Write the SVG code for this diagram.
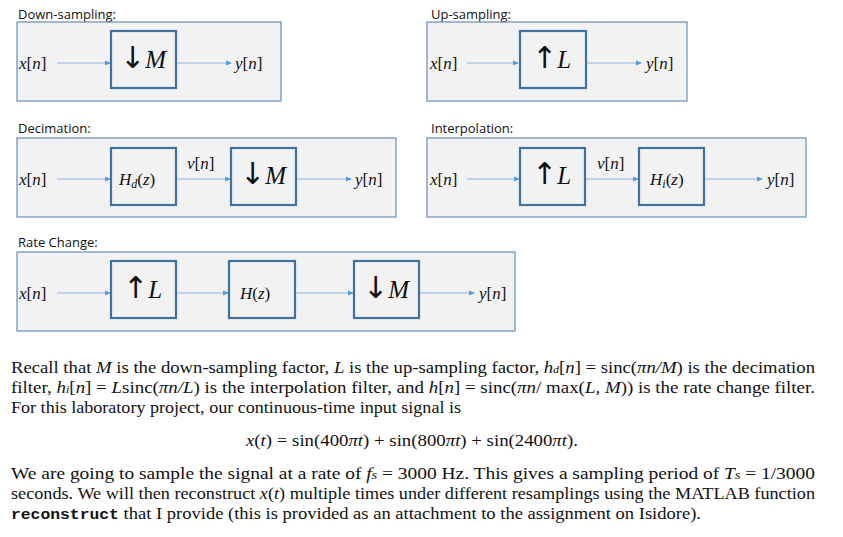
<svg xmlns="http://www.w3.org/2000/svg" width="843" height="537" viewBox="0 0 843 537">
<style>
.t{font-family:"Open Sans","Liberation Sans",sans-serif;font-size:13px;fill:#111}
.m{font-family:"Liberation Serif",serif;font-style:italic;font-size:17px;fill:#111}
.big{font-family:"Liberation Serif",serif;font-style:italic;font-size:25px;fill:#111}
.ar{font-family:"DejaVu Sans",sans-serif;font-style:normal;font-size:30px}
.outer{fill:#f2f2f2;stroke:#6a8db5;stroke-width:1.2}
.inner{fill:#f2f2f2;stroke:#41719c;stroke-width:2.2}
.c{stroke:#8db4e0;stroke-width:1;fill:none;marker-end:url(#a)}
.p{font-family:"Liberation Serif",serif;font-size:17px;fill:#111}
.mono{font-family:"Liberation Mono",monospace;font-weight:bold;font-size:15px}
</style>
<defs><marker id="a" markerWidth="6" markerHeight="6" refX="5" refY="3" orient="auto"><path d="M0,0.5 L6,3 L0,5.5z" fill="#5b9bd5"/></marker></defs>
<rect width="843" height="537" fill="#fff"/>
<g id="frames">
<text class="t" x="18" y="19">Down-sampling:</text>
<rect class="outer" x="17" y="22" width="264" height="79"/>
<text class="t" x="431" y="19">Up-sampling:</text>
<rect class="outer" x="427" y="22" width="260" height="79"/>
<text class="t" x="18" y="133">Decimation:</text>
<rect class="outer" x="17" y="138" width="379" height="79"/>
<text class="t" x="431" y="133">Interpolation:</text>
<rect class="outer" x="427" y="138" width="379" height="79"/>
<text class="t" x="18" y="247">Rate Change:</text>
<rect class="outer" x="17" y="252" width="498" height="79"/>
</g>
<g id="connectors">
<line class="c" x1="57" y1="63" x2="110" y2="63"/><line class="c" x1="177" y1="63" x2="231" y2="63"/>
<line class="c" x1="467" y1="63" x2="518" y2="63"/><line class="c" x1="587" y1="63" x2="641" y2="63"/>
<line class="c" x1="57" y1="179" x2="110" y2="179"/><line class="c" x1="177" y1="179" x2="230" y2="179"/><line class="c" x1="297" y1="179" x2="351" y2="179"/>
<line class="c" x1="467" y1="179" x2="519" y2="179"/><line class="c" x1="586" y1="179" x2="638" y2="179"/><line class="c" x1="705" y1="179" x2="762" y2="179"/>
<line class="c" x1="57" y1="293" x2="110" y2="293"/><line class="c" x1="177" y1="293" x2="228" y2="293"/><line class="c" x1="296" y1="293" x2="353" y2="293"/><line class="c" x1="420" y1="293" x2="474" y2="293"/>
</g>
<g id="labels">
<text class="m" x="19" y="69">x<tspan font-style="normal">[</tspan>n<tspan font-style="normal">]</tspan></text><text class="m" x="235" y="69">y<tspan font-style="normal">[</tspan>n<tspan font-style="normal">]</tspan></text>
<text class="m" x="430" y="69">x<tspan font-style="normal">[</tspan>n<tspan font-style="normal">]</tspan></text><text class="m" x="646" y="69">y<tspan font-style="normal">[</tspan>n<tspan font-style="normal">]</tspan></text>
<text class="m" x="19" y="185">x<tspan font-style="normal">[</tspan>n<tspan font-style="normal">]</tspan></text><text class="m" x="187" y="169">v<tspan font-style="normal">[</tspan>n<tspan font-style="normal">]</tspan></text><text class="m" x="355" y="185">y<tspan font-style="normal">[</tspan>n<tspan font-style="normal">]</tspan></text>
<text class="m" x="430" y="185">x<tspan font-style="normal">[</tspan>n<tspan font-style="normal">]</tspan></text><text class="m" x="597" y="169">v<tspan font-style="normal">[</tspan>n<tspan font-style="normal">]</tspan></text><text class="m" x="767" y="185">y<tspan font-style="normal">[</tspan>n<tspan font-style="normal">]</tspan></text>
<text class="m" x="19" y="299">x<tspan font-style="normal">[</tspan>n<tspan font-style="normal">]</tspan></text><text class="m" x="479" y="299">y<tspan font-style="normal">[</tspan>n<tspan font-style="normal">]</tspan></text>
</g>
<g id="down"><rect class="inner" x="111" y="31" width="65" height="57"/><text class="big" x="120" y="68"><tspan class="ar">↓</tspan>M</text></g>
<g id="up"><rect class="inner" x="520" y="31" width="66" height="57"/><text class="big" x="532" y="68"><tspan class="ar">↑</tspan>L</text></g>
<g id="hd"><rect class="inner" x="111" y="148" width="65" height="57"/><text class="m" x="119" y="185">H<tspan font-size="12" dy="3">d</tspan><tspan dy="-3" font-style="normal">(</tspan>z<tspan font-style="normal">)</tspan></text></g>
<g id="dec-down"><rect class="inner" x="231" y="148" width="65" height="57"/><text class="big" x="240" y="184"><tspan class="ar">↓</tspan>M</text></g>
<g id="int-up"><rect class="inner" x="520" y="148" width="65" height="57"/><text class="big" x="532" y="184"><tspan class="ar">↑</tspan>L</text></g>
<g id="hi"><rect class="inner" x="639" y="148" width="65" height="57"/><text class="m" x="650" y="185">H<tspan font-size="12" dy="3">i</tspan><tspan dy="-3" font-style="normal">(</tspan>z<tspan font-style="normal">)</tspan></text></g>
<g id="rc-up"><rect class="inner" x="111" y="261" width="65" height="57"/><text class="big" x="123" y="298"><tspan class="ar">↑</tspan>L</text></g>
<g id="h"><rect class="inner" x="229" y="261" width="66" height="57"/><text class="m" x="240" y="299">H<tspan font-style="normal">(</tspan>z<tspan font-style="normal">)</tspan></text></g>
<g id="rc-down"><rect class="inner" x="354" y="261" width="65" height="57"/><text class="big" x="363" y="298"><tspan class="ar">↓</tspan>M</text></g>
<g id="paragraph" class="p">
<text x="11" y="373" textLength="804" lengthAdjust="spacingAndGlyphs">Recall that <tspan font-style="italic">M</tspan> is the down-sampling factor, <tspan font-style="italic">L</tspan> is the up-sampling factor, <tspan font-style="italic">h<tspan font-size="11">d</tspan></tspan>[<tspan font-style="italic">n</tspan>] = sinc(<tspan font-style="italic">πn/M</tspan>) is the decimation</text>
<text x="11" y="393" textLength="804" lengthAdjust="spacingAndGlyphs">filter, <tspan font-style="italic">h<tspan font-size="11">i</tspan></tspan>[<tspan font-style="italic">n</tspan>] = <tspan font-style="italic">L</tspan>sinc(<tspan font-style="italic">πn/L</tspan>) is the interpolation filter, and <tspan font-style="italic">h</tspan>[<tspan font-style="italic">n</tspan>] = sinc(<tspan font-style="italic">πn</tspan>/ max(<tspan font-style="italic">L, M</tspan>)) is the rate change filter.</text>
<text x="11" y="413" textLength="450" lengthAdjust="spacingAndGlyphs">For this laboratory project, our continuous-time input signal is</text>
<text x="246" y="446" textLength="332" lengthAdjust="spacingAndGlyphs"><tspan font-style="italic">x</tspan>(<tspan font-style="italic">t</tspan>) = sin(400<tspan font-style="italic">πt</tspan>) + sin(800<tspan font-style="italic">πt</tspan>) + sin(2400<tspan font-style="italic">πt</tspan>).</text>
<text x="11" y="479" textLength="804" lengthAdjust="spacingAndGlyphs">We are going to sample the signal at a rate of <tspan font-style="italic">f<tspan font-size="12">s</tspan></tspan> = 3000 Hz.  This gives a sampling period of <tspan font-style="italic">T<tspan font-size="12">s</tspan></tspan> = 1/3000</text>
<text x="11" y="499" textLength="804" lengthAdjust="spacingAndGlyphs">seconds. We will then reconstruct <tspan font-style="italic">x</tspan>(<tspan font-style="italic">t</tspan>) multiple times under different resamplings using the MATLAB function</text>
<text x="11" y="519" textLength="690" lengthAdjust="spacingAndGlyphs"><tspan class="mono">reconstruct</tspan> that I provide (this is provided as an attachment to the assignment on Isidore).</text>
</g>
</svg>
